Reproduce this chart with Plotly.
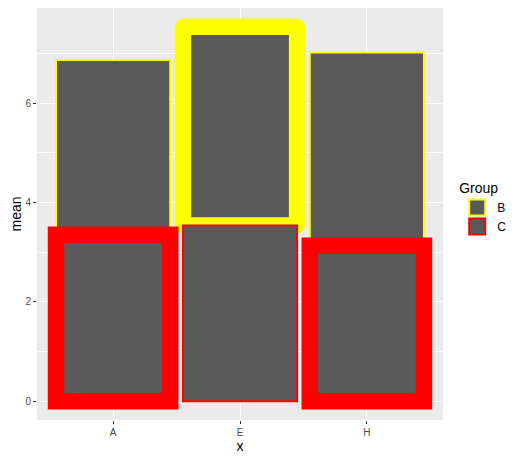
import plotly.graph_objects as go

categories = ["A", "E", "H"]
groups = ["B", "C"]

# mean per group (C sits at the bottom, B stacked on top)
mean_c = [3.35, 3.54, 3.13]
mean_b = [3.52, 4.00, 3.89]

# outline width per bar, in px
width_c = [16.5, 2, 16.5]
width_b = [2, 16.5, 2]

edge_colors = {"B": "#FFFF00", "C": "#FF0000"}
fill = "#595959"

fig = go.Figure()

# B drawn first so the C bars paint over it, like ggplot
fig.add_trace(go.Bar(
    x=categories, y=mean_b, base=mean_c, width=0.9, name="B",
    marker=dict(color=fill, cornerradius=1,
                line=dict(color=edge_colors["B"], width=width_b)),
    showlegend=False,
))
fig.add_trace(go.Bar(
    x=categories, y=mean_c, width=0.9, name="C",
    marker=dict(color=fill, cornerradius=1,
                line=dict(color=edge_colors["C"], width=width_c)),
    showlegend=False,
))

# legend keys
for g in groups:
    fig.add_trace(go.Scatter(
        x=[None], y=[None], mode="markers", name=g,
        marker=dict(symbol="square", size=16, color=fill,
                    line=dict(color=edge_colors[g], width=2)),
    ))

total = [b + c for b, c in zip(mean_b, mean_c)]
ymax = max(total)

# page has an 8px body margin, so the figure is a bit smaller than the window
fig.update_layout(
    width=513, height=452,
    barmode="overlay",
    paper_bgcolor="white",
    plot_bgcolor="#EBEBEB",
    font=dict(family="Liberation Sans, Arial, sans-serif", color="black"),
    margin=dict(l=29, r=78, t=0, b=40),
    legend=dict(
        title=dict(text="Group", font=dict(size=14)),
        font=dict(size=12),
        traceorder="normal",
        x=1.035, xanchor="left", y=0.595, yanchor="top",
        bgcolor="rgba(0,0,0,0)",
    ),
)
fig.update_xaxes(
    range=[-0.6, 2.6], showgrid=True, gridcolor="white", gridwidth=1.1,
    ticks="outside", ticklen=3, tickcolor="#333333",
    tickfont=dict(size=10, color="#4D4D4D"), zeroline=False, automargin=False,
    title=dict(text="x", font=dict(size=14), standoff=4),
)
fig.update_yaxes(
    range=[-0.05 * ymax, ymax * 1.05], dtick=2, showgrid=True,
    gridcolor="white", gridwidth=1.1, zeroline=False, automargin=False,
    ticks="outside", ticklen=3, tickcolor="#333333",
    tickfont=dict(size=10, color="#4D4D4D"),
    minor=dict(dtick=1, showgrid=True, gridcolor="white", gridwidth=0.5),
    title=dict(text="mean", font=dict(size=14), standoff=4),
)

fig.write_html("out.html")
